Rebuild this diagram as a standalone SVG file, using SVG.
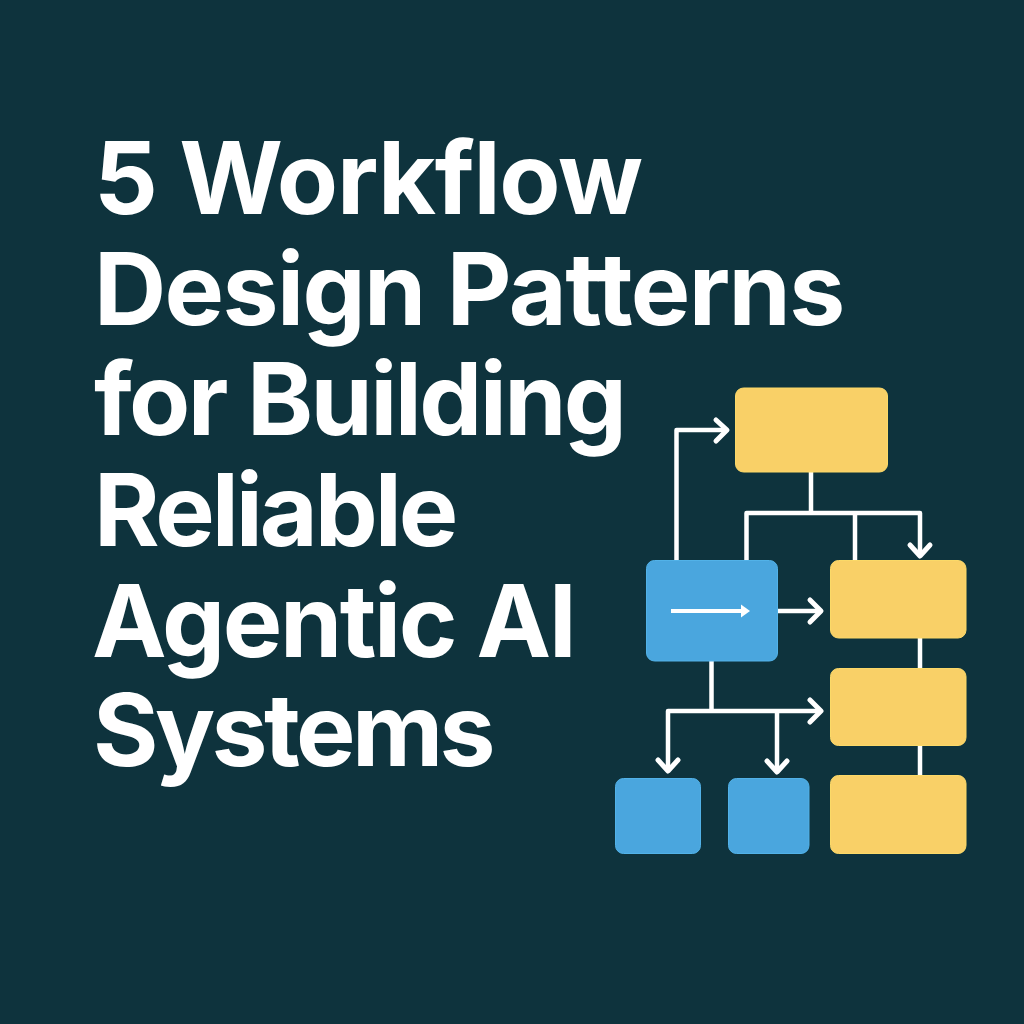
<svg xmlns="http://www.w3.org/2000/svg" width="1024" height="1024" viewBox="0 0 1024 1024">
<style>
.t{font-family:"Inter","Liberation Sans",sans-serif;font-weight:700;font-size:100px;fill:#fff}
.y{fill:#f9d067;stroke:#fbd968;stroke-width:1}.b{fill:#4aa6de;stroke:#52b2e8;stroke-width:1}
.c{fill:none;stroke:#fff;stroke-width:4.5;stroke-linejoin:round}
.h{fill:none;stroke:#fff;stroke-width:5;stroke-linecap:round;stroke-linejoin:round}
</style>
<rect width="1024" height="1024" fill="#0e333d"/>
<g id="title">
<text class="t" x="94" y="214" letter-spacing="-1.2">5 Workflow</text>
<text class="t" x="94" y="325" letter-spacing="-1.6">Design Patterns</text>
<text class="t" x="94" y="435" letter-spacing="-2.6">for Building</text>
<text class="t" x="94" y="546" letter-spacing="-3.1">Reliable</text>
<text class="t" x="92" y="656.500" letter-spacing="-2.4">Agentic AI</text>
<text class="t" x="93" y="766" letter-spacing="-3.6">Systems</text>
</g>
<g id="connectors">
<path class="c" d="M676.500 560V430H726"/><path class="h" d="M716 420L727 430L716 441"/>
<path class="c" d="M811 472V513M746.500 560V513H920V554"/><path class="c" d="M855 513V560"/><path class="h" d="M910 545L920 556L930 545"/>
<path class="c" d="M778 611H820"/><path class="h" d="M810 600L821 611L810 622"/>
<path class="c" d="M920 638V668M920 746V775"/>
<path class="c" d="M711.500 661V711M668 770V711H820"/><path class="c" d="M777 711V770"/>
<path class="h" d="M810 700L821 711L810 722M658 760L668 771L678 760M767 761L777 772L787 761"/>
</g>
<g id="node-top"><rect class="y" x="735.500" y="388" width="152" height="84" rx="8"/></g>
<g id="node-blue-main"><rect class="b" x="646.500" y="560.500" width="131" height="100.500" rx="8"/>
<path d="M671 611H743" fill="none" stroke="#fff" stroke-width="4"/><path d="M741 604.500L750 611L741 617.500Z" fill="#fff"/></g>
<g id="node-y1"><rect class="y" x="830.500" y="560.500" width="135.500" height="77.500" rx="8"/></g>
<g id="node-y2"><rect class="y" x="830.500" y="668.500" width="135.500" height="77" rx="8"/></g>
<g id="node-y3"><rect class="y" x="830.500" y="775.500" width="135.500" height="78" rx="8"/></g>
<g id="node-b1"><rect class="b" x="615.500" y="778.500" width="85" height="75" rx="8"/></g>
<g id="node-b2"><rect class="b" x="728.500" y="778.500" width="80.500" height="75" rx="8"/></g>
</svg>
